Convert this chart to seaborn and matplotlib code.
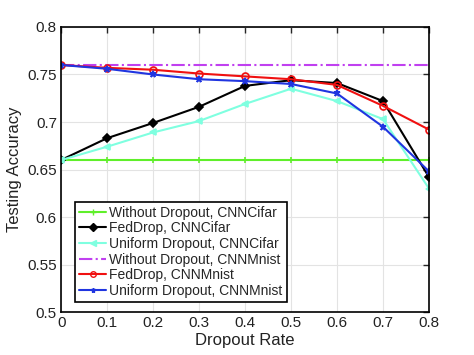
import numpy as np
import pandas as pd
import matplotlib
matplotlib.use("Agg")
import matplotlib.pyplot as plt
from matplotlib.lines import Line2D
import seaborn as sns

sns.set_style("whitegrid")
plt.rcParams['font.family'] = ['Liberation Sans', 'DejaVu Sans']

# dropout rates on the x axis
rates = [0.0, 0.1, 0.2, 0.3, 0.4, 0.5, 0.6, 0.7, 0.8]

# testing accuracy
nodrop_cifar = [0.66] * 9
feddrop_cifar = [0.66, 0.683, 0.699, 0.716, 0.738, 0.744, 0.741, 0.722, 0.642]
uniform_cifar = [0.66, 0.674, 0.689, 0.701, 0.719, 0.735, 0.722, 0.703, 0.630]
nodrop_mnist = [0.76] * 9
feddrop_mnist = [0.76, 0.757, 0.755, 0.751, 0.748, 0.745, 0.739, 0.717, 0.692]
uniform_mnist = [0.76, 0.756, 0.750, 0.745, 0.743, 0.740, 0.730, 0.695, 0.648]

series = [
    ("Without Dropout, CNNCifar", nodrop_cifar, "#5FEF2A", "-", "+", True, 5),
    ("FedDrop, CNNCifar", feddrop_cifar, "black", "-", "D", True, 4.5),
    ("Uniform Dropout, CNNCifar", uniform_cifar, "#7FFFE0", "-", "<", True, 5),
    ("Without Dropout, CNNMnist", nodrop_mnist, "#C040F0", "-.", "", True, 0),
    ("FedDrop, CNNMnist", feddrop_mnist, "#F01010", "-", "o", False, 5),
    ("Uniform Dropout, CNNMnist", uniform_mnist, "#2035E0", "-", "*", True, 4.5),
]

fig = plt.figure(figsize=(4.74, 3.55), dpi=100)
ax = fig.add_axes([0.129, 0.121, 0.776, 0.803])

handles = []
for name, vals, col, ls, mk, filled, ms in series:
    df = pd.DataFrame({"rate": rates, "acc": vals})
    fc = col if filled else "none"
    sns.lineplot(data=df, x="rate", y="acc", ax=ax, color=col, linestyle=ls,
                 linewidth=1.5, marker=mk if mk else None, markersize=ms,
                 markeredgewidth=1.2, markeredgecolor=col, markerfacecolor=fc,
                 legend=False)
    handles.append(Line2D([], [], color=col, linestyle=ls, linewidth=1.5,
                          marker=mk if mk else None, markersize=ms * 0.8,
                          markeredgewidth=1.0, markeredgecolor=col,
                          markerfacecolor=fc, label=name))

ax.set_xlim(0, 0.8)
ax.set_ylim(0.5, 0.8)
ax.set_xticks(rates)
ax.set_xticklabels(["0", "0.1", "0.2", "0.3", "0.4", "0.5", "0.6", "0.7", "0.8"])
ax.set_yticks([0.5, 0.55, 0.6, 0.65, 0.7, 0.75, 0.8])
ax.set_yticklabels(["0.5", "0.55", "0.6", "0.65", "0.7", "0.75", "0.8"])
ax.tick_params(direction="in", length=4, width=1, labelsize=11, top=True, right=True,
               labelcolor="#222222", pad=3)
ax.grid(True, color="#E3E3E3", linewidth=0.8)
for sp in ax.spines.values():
    sp.set_color("black")
    sp.set_linewidth(1.2)

ax.set_xlabel("Dropout Rate", fontsize=12, color="#222222", labelpad=2)
ax.set_ylabel("Testing Accuracy", fontsize=12, color="#222222", labelpad=4)

leg = ax.legend(handles=handles, loc="lower left", bbox_to_anchor=(0.025, 0.02),
                fontsize=10, frameon=True, fancybox=False, handlelength=2.0,
                handletextpad=0.2, borderpad=0.3, labelspacing=0.12, borderaxespad=0.3)
leg.get_frame().set_edgecolor("black")
leg.get_frame().set_linewidth(1.2)
leg.get_frame().set_alpha(1)

fig.savefig("out.png", dpi=100)
